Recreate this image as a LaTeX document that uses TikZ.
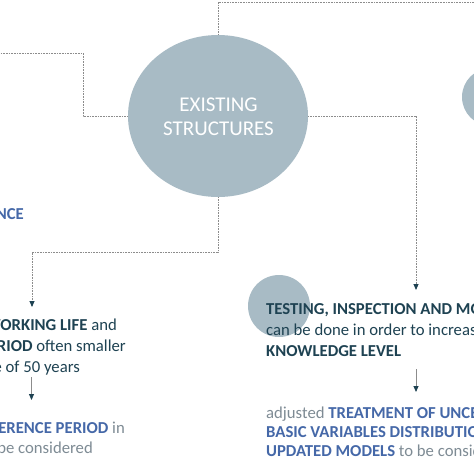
\documentclass[tikz,border=0pt]{standalone}
\usepackage{fontspec}
\setmainfont{Carlito}
\usetikzlibrary{arrows.meta,shapes.geometric}
\definecolor{fillc}{HTML}{A8BBC5}
\definecolor{darkt}{HTML}{1E4252}
\definecolor{bluet}{HTML}{4568A8}
\definecolor{grayt}{HTML}{7E8B94}
\definecolor{linec}{HTML}{8C8C8C}
\begin{document}
\begin{tikzpicture}[x=1pt,y=-1pt,
  conn/.style={draw=linec, line width=0.9pt, dash pattern=on 1pt off 0.6pt},
  solidc/.style={draw=linec, line width=0.8pt},
  tipend/.style={-{Triangle[width=5pt,length=6pt,color=darkt]}},
  txt/.style={inner sep=0pt, font=\fontsize{16.7}{21}\selectfont, text=darkt},
  bl/.style={anchor=base west},
  br/.style={anchor=base east},
  blob/.style={fill=fillc, draw=none, inner sep=0pt}
]
\useasboundingbox (0,0) rectangle (474,474);
\clip (0,0) rectangle (474,474);
\fill[white] (0,0) rectangle (474,474);

% circles
\node[blob, ellipse, minimum width=180pt, minimum height=162pt] (ex) at (218,116) {};
\node[text=white, font=\fontsize{21}{24}\selectfont, align=center, inner sep=0pt] (extxt) at (218.5,117) {EXISTING\\STRUCTURES};
\node[blob, circle, minimum size=58pt] (c2) at (491,97) {};
\node[blob, circle, minimum size=62pt] (c3) at (279,306) {};

% left column texts
\node[txt, br, text=bluet, font=\fontsize{16.7}{21}\selectfont\bfseries] (l0) at (24,219) {NCE};
\node[txt, br] (l1) at (117,330) {\textbf{WORKING LIFE} and};
\node[txt, br] (l2) at (126,351) {\textbf{ERIOD} often smaller};
\node[txt, br] (l3) at (80,372) {e of 50 years};
\node[txt, br, text=grayt] (l4) at (125,433) {\textcolor{bluet}{\textbf{FERENCE PERIOD}} in};
\node[txt, br, text=grayt] (l5) at (93,453) {be considered};

% right column texts
\node[txt, bl] (r1) at (266,314) {\textbf{TESTING, INSPECTION AND MON}};
\node[txt, bl] (r2) at (266,335) {can be done in order to increase};
\node[txt, bl] (r3) at (266,356) {\textbf{KNOWLEDGE LEVEL}};
\node[txt, bl, text=grayt] (r4) at (266,418) {adjusted \textcolor{bluet}{\textbf{TREATMENT OF UNCER}}};
\node[txt, bl, text=bluet, font=\fontsize{16.7}{21}\selectfont\bfseries] (r5) at (266,437) {BASIC VARIABLES DISTRIBUTION};
\node[txt, bl, text=grayt] (r6) at (266,456) {\textcolor{bluet}{\textbf{UPDATED MODELS}} to be consid};

% connector ends
\coordinate (topend) at (476,2);
\coordinate (leftend) at (-2,53);
\coordinate (a1) at (32,307);
\coordinate (a2) at (416,290);
\coordinate (a3s) at (31.5,377);
\coordinate (a3) at (31.5,400);
\coordinate (a4s) at (416,369);
\coordinate (a4) at (416,392);

% connectors
\draw[conn] (ex.north) -- (ex.north |- topend) -- (topend);
\draw[conn] (ex.west) -- (83,116) -- (83,53) -- (leftend);
\draw[conn, tipend] (ex.east) -- (a2 |- ex.east) -- (a2);
\draw[conn, tipend] (ex.south) -- (ex.south |- 0,252) -- (a1 |- 0,252) -- (a1);
\draw[solidc, tipend] (a3s) -- (a3);
\draw[solidc, tipend] (a4s) -- (a4);
\end{tikzpicture}
\end{document}
